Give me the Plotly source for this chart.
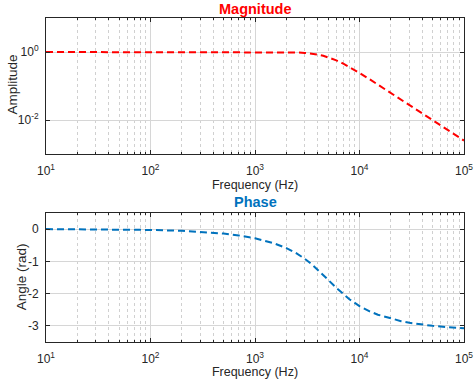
import plotly.graph_objects as go

freq = [10, 30, 100, 200, 300, 500, 700, 1000, 1500, 2000, 2500, 3000, 3500, 4000,
        4500, 5000, 6000, 7000, 8000, 10000, 12500, 15000, 20000, 25000, 30000,
        40000, 50000, 70000, 100000]
amplitude = [1.0, 1.0, 1.0, 1.0, 1.0, 1.0, 1.0, 0.9992, 0.996, 0.9874, 0.9701, 0.9409,
             0.898, 0.8423, 0.7771, 0.7071, 0.5705, 0.4544, 0.3638, 0.2425, 0.158,
             0.1104, 0.0624, 0.03997, 0.02777, 0.01562, 0.0100, 0.0051, 0.0025]
angle = [-0.0028, -0.0085, -0.0283, -0.0566, -0.0851, -0.1419, -0.1993, -0.2866,
         -0.4362, -0.5925, -0.7559, -0.9245, -1.0953, -1.2628, -1.4226, -1.5708,
         -1.8243, -2.0221, -2.1743, -2.3857, -2.5491, -2.654, -2.7809, -2.855,
         -2.9038, -2.9639, -2.9997, -3.0404, -3.0708]

xtick_vals = [10, 100, 1000, 10000, 100000]
xtick_text = ["10<sup>1</sup>", "10<sup>2</sup>", "10<sup>3</sup>", "10<sup>4</sup>", "10<sup>5</sup>"]
amp_tick_vals = [1, 0.01]
amp_tick_text = ["10<sup>0</sup>", "10<sup>-2</sup>"]
ang_tick_vals = [0, -1, -2, -3]
ang_tick_text = ["0", "-1", "-2", "-3"]

minor_x = [m * 10 ** e for e in range(1, 5) for m in range(2, 10)]

AX = "#262626"
FONT = "Liberation Sans, Arial, Helvetica, sans-serif"

fig = go.Figure()
fig.add_trace(go.Scatter(x=freq, y=amplitude, mode="lines",
                         line=dict(color="#FF0000", width=2, dash="7px,4px"),
                         xaxis="x", yaxis="y", showlegend=False))
fig.add_trace(go.Scatter(x=freq, y=angle, mode="lines",
                         line=dict(color="#0072BD", width=2, dash="7px,4px"),
                         xaxis="x2", yaxis="y2", showlegend=False))

def xaxis_cfg(anchor):
    return dict(type="log", range=[1, 5], anchor=anchor, automargin=False,
                tickvals=xtick_vals, ticktext=xtick_text,
                ticks="inside", ticklen=4, tickcolor=AX,
                showline=True, linecolor=AX, linewidth=1, mirror="allticks",
                showgrid=True, gridcolor="#d6d6d6", gridwidth=1,
                zeroline=False, ticklabeloverflow="allow", ticklabelstandoff=6,
                tickfont=dict(size=12, color=AX),
                minor=dict(tickvals=minor_x, ticks="inside", ticklen=2, tickcolor=AX,
                           showgrid=True, gridcolor="#d0d0d0", griddash="dot", gridwidth=1),
                title=dict(text="Frequency (Hz)", font=dict(size=12.5, color=AX), standoff=1))

def yaxis_common():
    return dict(ticks="inside", ticklen=4, tickcolor=AX, automargin=False,
                showline=True, linecolor=AX, linewidth=1, mirror="allticks",
                showgrid=True, gridcolor="#d6d6d6", zeroline=False,
                tickfont=dict(size=12, color=AX), ticklabelstandoff=4)

fig.update_layout(
    width=474, height=379,
    margin=dict(l=46, r=10, t=18, b=37),
    paper_bgcolor="white", plot_bgcolor="white",
    font=dict(family=FONT, color=AX),
    xaxis=xaxis_cfg("y"),
    yaxis=dict(type="log", range=[-3, 1], domain=[0.58, 1.0], anchor="x",
               tickvals=amp_tick_vals, ticktext=amp_tick_text,
               **yaxis_common()),
    xaxis2=xaxis_cfg("y2"),
    yaxis2=dict(range=[-3.5, 0.5], domain=[0.0, 0.3985], anchor="x2",
                tickvals=ang_tick_vals, ticktext=ang_tick_text,
                **yaxis_common()),
    annotations=[
        dict(text="<b>Magnitude</b>", xref="paper", yref="paper", x=0.5, y=1.0, yshift=-1,
             xanchor="center", yanchor="bottom", showarrow=False,
             font=dict(size=14.5, color="#FF0000")),
        dict(text="<b>Phase</b>", xref="paper", yref="paper", x=0.5, y=0.3985, yshift=1,
             xanchor="center", yanchor="bottom", showarrow=False,
             font=dict(size=14.5, color="#0072BD")),
        dict(text="Amplitude", xref="paper", yref="paper", x=-0.0813, y=0.795,
             xanchor="center", yanchor="middle", textangle=-90, showarrow=False,
             font=dict(size=13.5, color=AX)),
        dict(text="Angle (rad)", xref="paper", yref="paper", x=-0.0598, y=0.20,
             xanchor="center", yanchor="middle", textangle=-90, showarrow=False,
             font=dict(size=13.5, color=AX)),
    ],
)

fig.write_html("out.html", config={"displayModeBar": False},
               post_script="document.body.style.margin='0';document.body.style.padding='0';")
